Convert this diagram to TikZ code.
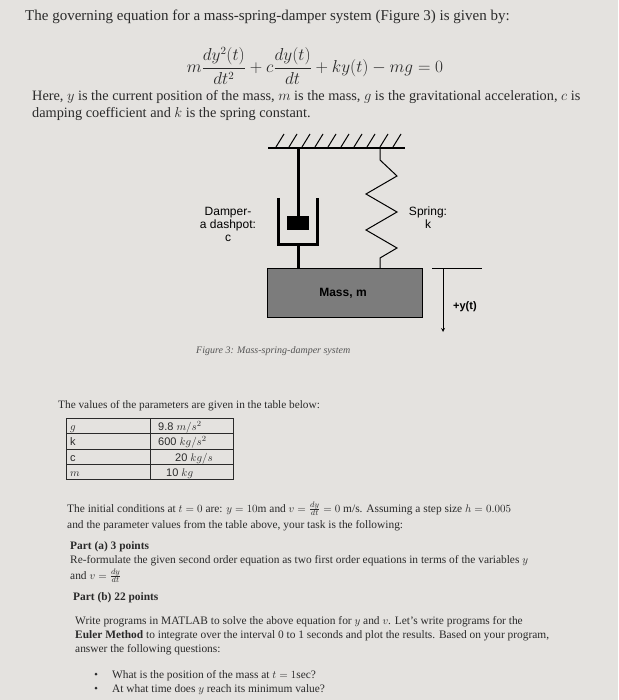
\documentclass[tikz,border=0pt]{standalone}
\usepackage{fontspec}
\setmainfont{Liberation Serif}
\newfontfamily\arialf{Liberation Sans}
\usepackage{amsmath}
\definecolor{paper}{HTML}{E4E2DF}
\definecolor{ink}{HTML}{2A2A2A}
\definecolor{massgray}{HTML}{7C7C7C}
\tikzset{
  body/.style={anchor=base west,inner sep=0pt,text=ink,font=\fontsize{14.3}{16}\selectfont},
  small/.style={anchor=base west,inner sep=0pt,text=ink,font=\fontsize{11.4}{13}\selectfont},
  lbl/.style={inner sep=0pt,text=black,font=\arialf\fontsize{12}{13}\selectfont},
  cell/.style={anchor=base west,inner sep=0pt,text=ink,font=\arialf\fontsize{11}{12}\selectfont},
  mech/.style={line width=3pt,black},
}
\begin{document}
\begin{tikzpicture}[x=1pt,y=-1pt]
\useasboundingbox (0,0) rectangle (618,700);
\fill[paper] (0,0) rectangle (618,700);
% text top
\node[body,font=\fontsize{15}{16}\selectfont] (t1) at (25,21) {The governing equation for a mass-spring-damper system (Figure 3) is given by:};
\node[text=ink,inner sep=0pt,font=\fontsize{16}{18}\selectfont] (eq) at (315,66) {$m\dfrac{dy^2(t)}{dt^2}+c\dfrac{dy(t)}{dt}+ky(t)-mg=0$};
\node[body] (t2) at (32,101) {Here, $y$ is the current position of the mass, $m$ is the mass, $g$ is the gravitational acceleration, $c$ is};
\node[body] (t3) at (32,118) {damping coefficient and $k$ is the spring constant.};
% ceiling
\draw[line width=1.2pt] (268,148) -- (405,148);
\foreach \i in {0,...,9} \draw[line width=1pt] (276+13*\i,147) -- (284+13*\i,134);
% damper
\draw[mech] (298,148) -- (298,218);
\fill (287,216) rectangle (309,230);
\draw[mech] (278,198) -- (278,245) -- (317,245) -- (317,198);
\draw[mech] (298,245) -- (298,268);
% spring
\draw[line width=1pt] (380,148) -- (380,160) -- (397,176) -- (366,194) -- (397,212) -- (366,230) -- (397,248) -- (380,258) -- (380,268);
% mass
\node[draw=black,line width=0.8pt,fill=massgray,minimum width=155pt,minimum height=49pt,anchor=north west] (mass) at (267,268) {};
\node[lbl] (massl) at (343,293) {\bfseries Mass, m};
\node[lbl,align=center] (dl) at (228,224) {Damper-\\a dashpot:\\c};
\node[lbl,align=center] (sl) at (428,218) {Spring:\\k};
% y axis
\draw[line width=0.8pt] (432,268) -- (482,268);
\coordinate (ya) at (443,268);
\coordinate (yb) at (443,332);
\draw[line width=0.8pt,-stealth] (ya) -- (yb);
\node[lbl,anchor=west,font=\arialf\bfseries\fontsize{11}{12}\selectfont] (yl) at (453,307) {+y(t)};
\node[inner sep=0pt,text=ink!80,font=\itshape\fontsize{10}{11}\selectfont,anchor=base west] (cap) at (196,353) {Figure 3: Mass-spring-damper system};
% table
\node[small,font=\fontsize{11.3}{13}\selectfont] (t4) at (58,408) {The values of the parameters are given in the table below:};
\draw[line width=0.7pt,ink] (66,418) rectangle (233,479);
\foreach \yy in {433,449,464} \draw[line width=0.6pt,ink] (66,\yy) -- (233,\yy);
\draw[line width=0.6pt,ink] (150,418) -- (150,479);
\node[cell] (g) at (70,430) {$g$};
\node[cell] (k) at (70,445) {k};
\node[cell] (c) at (70,461) {c};
\node[cell] (m) at (70,476) {$m$};
\node[cell] (gv) at (158,430) {9.8 $m/s^2$};
\node[cell] (kv) at (158,445) {600 $kg/s^2$};
\node[cell] (cv) at (175,461) {20 $kg/s$};
\node[cell] (mv) at (166,476) {10 $kg$};
% conditions
\node[small] (t5) at (67,512) {The initial conditions at $t=0$ are: $y=10$m and $v=\frac{dy}{dt}=0$ m/s. Assuming a step size $h=0.005$};
\node[small] (t6) at (67,528) {and the parameter values from the table above, your task is the following:};
\node[small,font=\bfseries\fontsize{11.4}{13}\selectfont] (pa) at (70,549) {Part (a) 3 points};
\node[small] (t7) at (70,563) {Re-formulate the given second order equation as two first order equations in terms of the variables $y$};
\node[small] (t8) at (70,579) {and $v=\frac{dy}{dt}$};
\node[small,font=\bfseries\fontsize{11.4}{13}\selectfont] (pb) at (73,600) {Part (b) 22 points};
\node[small] (t9) at (75,624) {Write programs in MATLAB to solve the above equation for $y$ and $v$. Let's write programs for the};
\node[small] (t10) at (75,638) {\textbf{Euler Method} to integrate over the interval 0 to 1 seconds and plot the results. Based on your program,};
\node[small] (t11) at (75,652) {answer the following questions:};
\node[small] (b1) at (112,678) {What is the position of the mass at $t=1$sec?};
\node[small] (b2) at (112,692) {At what time does $y$ reach its minimum value?};
\fill[ink] (96,674) circle (1.5pt);
\fill[ink] (96,688) circle (1.5pt);
\end{tikzpicture}
\end{document}
